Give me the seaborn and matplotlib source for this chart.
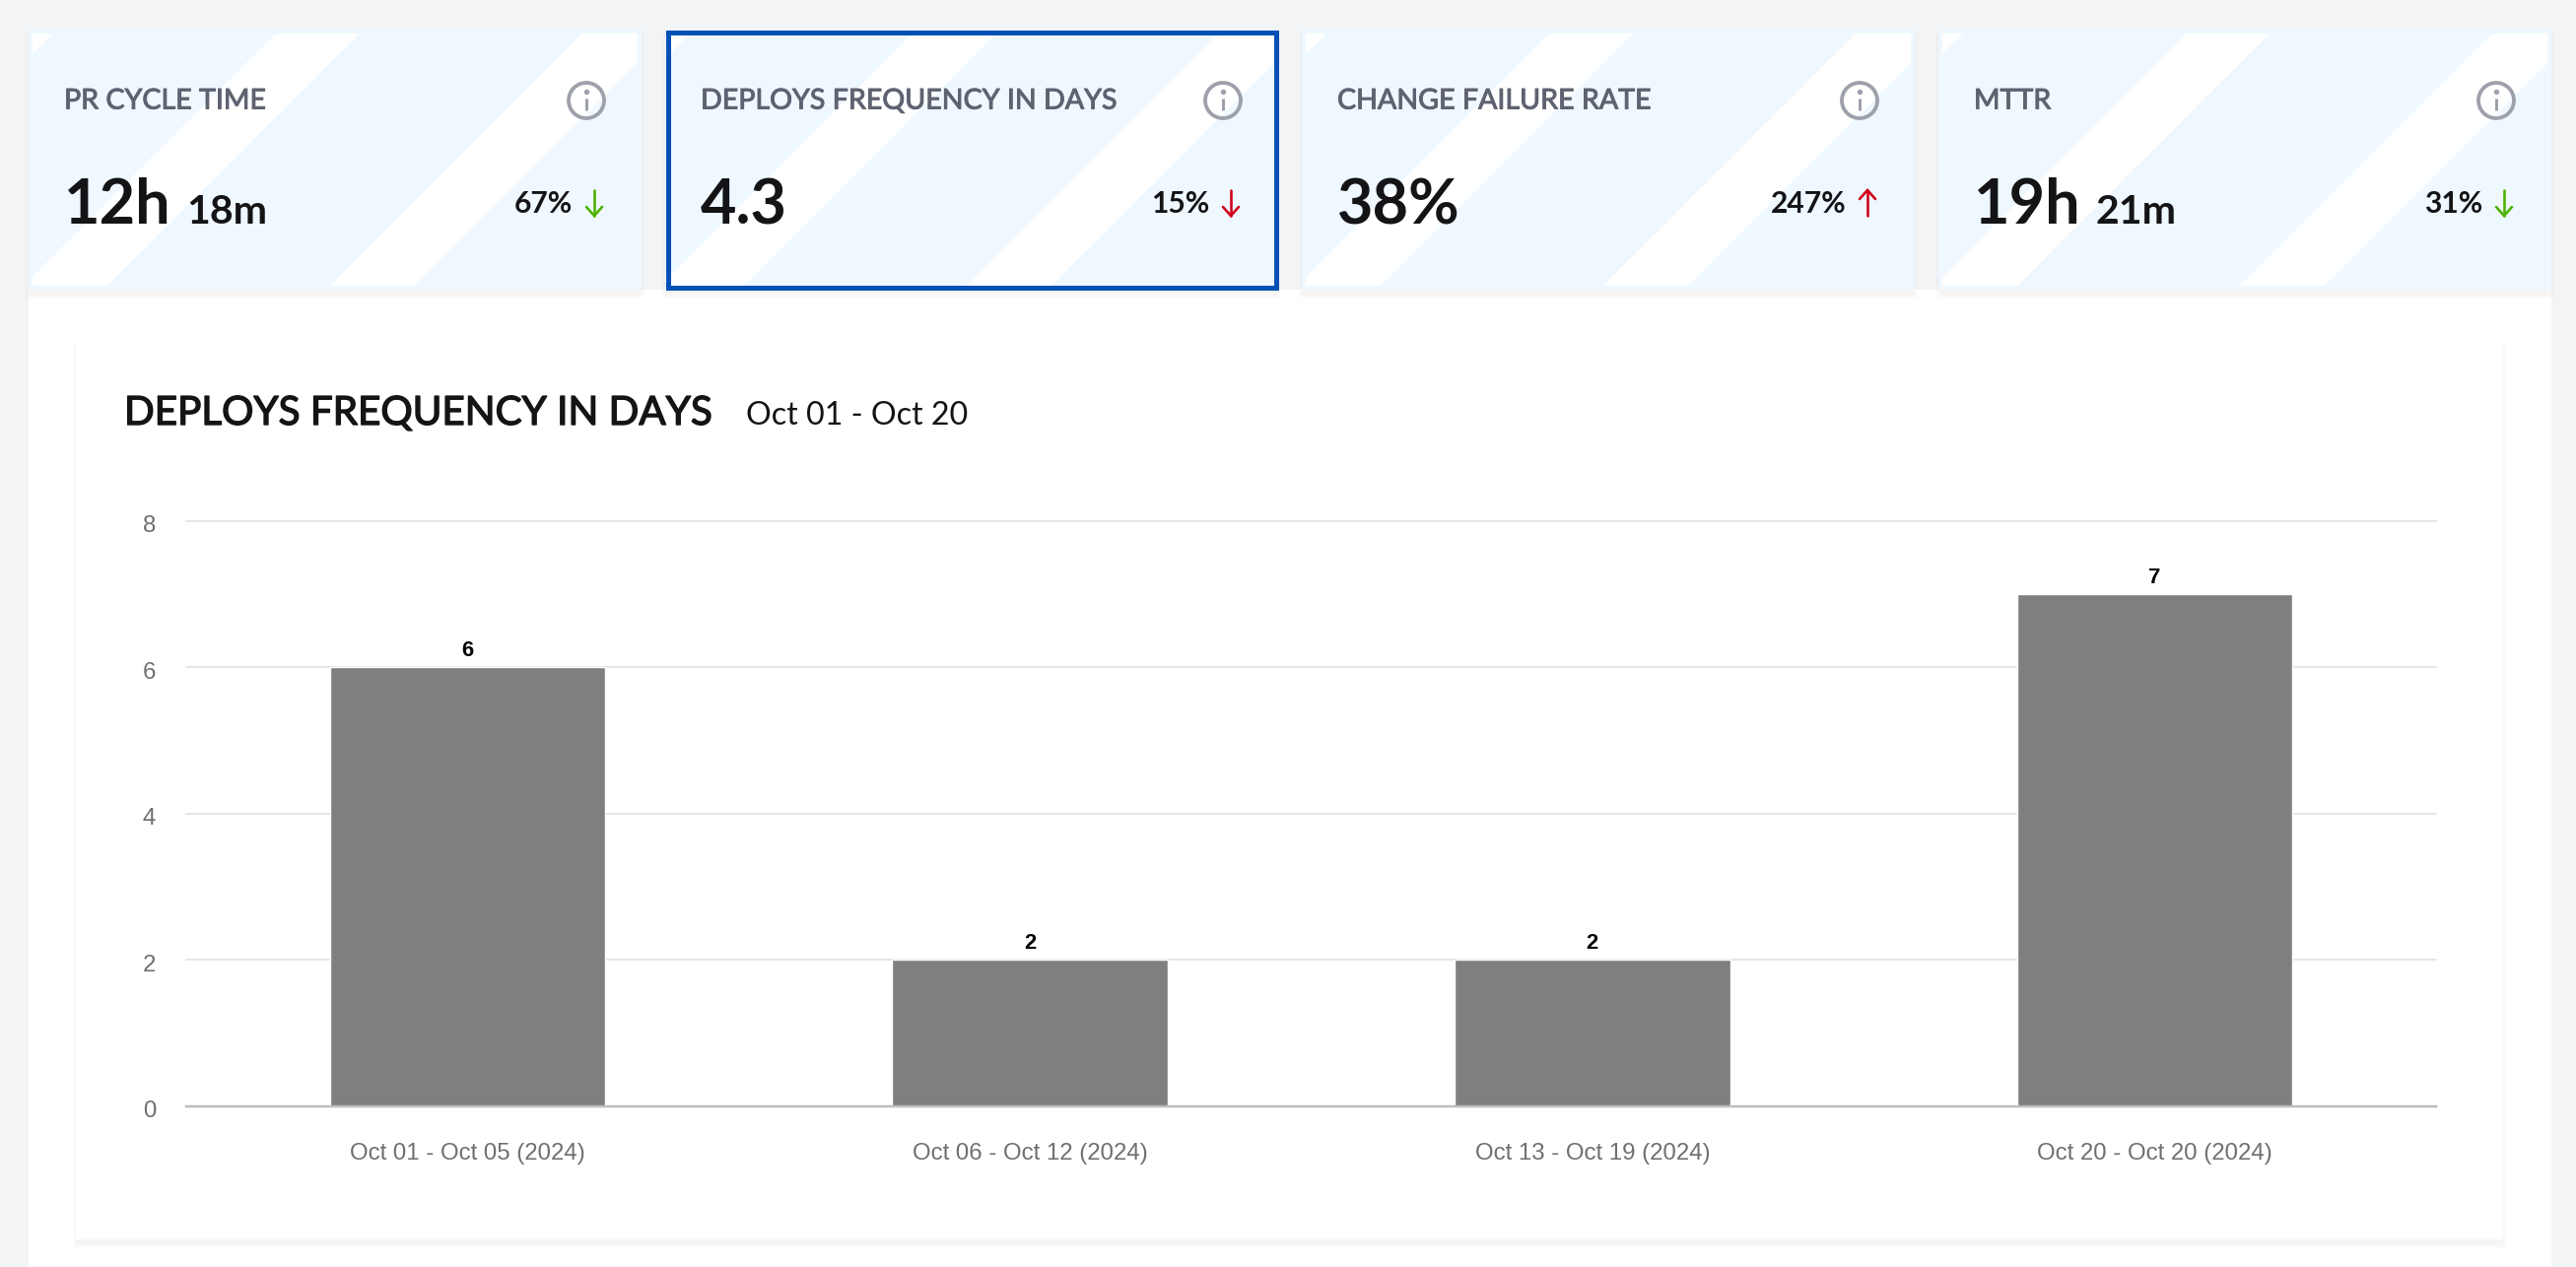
import matplotlib
matplotlib.use("Agg")
import matplotlib.pyplot as plt
import matplotlib.patheffects as pe
import seaborn as sns
from matplotlib.patches import Rectangle, Circle
from matplotlib.transforms import ScaledTranslation

# ---- data ----
periods = ["Oct 01 - Oct 05 (2024)", "Oct 06 - Oct 12 (2024)",
           "Oct 13 - Oct 19 (2024)", "Oct 20 - Oct 20 (2024)"]
deploys = [6, 2, 2, 7]
y_ticks = [0, 2, 4, 6, 8]
card_titles = ["PR CYCLE TIME", "DEPLOYS FREQUENCY IN DAYS", "CHANGE FAILURE RATE", "MTTR"]
card_main = ["12h", "4.3", "38%", "19h"]
card_sub = ["18m", "", "", "21m"]
card_change = ["67%", "15%", "247%", "31%"]
card_up = [False, False, True, False]
card_good = [True, False, False, True]
chart_title = "DEPLOYS FREQUENCY IN DAYS"
chart_range = "Oct 01 - Oct 20"

# ---- layout (pixels) ----
W, H = 2614, 1286
DPI = 100
card_left = [29, 675, 1321, 1967]
card_w, card_top, card_bot = 622, 30, 294
SANS = "Lato"
AX = "Liberation Sans"
C_BG, C_CARD, C_BLUE = "#F3F4F6", "#EFF8FF", "#0050B5"
C_GREEN, C_RED, C_INK, C_MUTED, C_ICON = "#4DB100", "#D0021B", "#141416", "#5F6270", "#9EA1AC"

sns.set_theme(style="white")
fig = plt.figure(figsize=(W / DPI, H / DPI), dpi=DPI, facecolor=C_BG)

bg = fig.add_axes([0, 0, 1, 1], zorder=0)
bg.set_xlim(0, W)
bg.set_ylim(H, 0)
bg.axis("off")


def px(p):
    return p * 0.72


def medium(color, w=0.7):
    return [pe.withStroke(linewidth=w, foreground=color)]


def shadow(x, y, w, h, spread=5, alpha=0.006):
    for i in range(spread, 0, -1):
        bg.add_patch(Rectangle((x - i + 2, y + 4), w + 2 * i - 4, h + i, fc="black", ec="none",
                               alpha=alpha, zorder=1))


# big white panel and inner chart card
bg.add_patch(Rectangle((29, 294), 2560, H - 294, fc="white", ec="none", zorder=1))
shadow(77, 342, 2463, 916)
bg.add_patch(Rectangle((77, 342), 2463, 916, fc="white", ec="none", zorder=2))

bands = [(-30, 55), (281, 366), (592, 678)]
for i, x0 in enumerate(card_left):
    shadow(x0, card_top, card_w, card_bot - card_top, alpha=0.008)
    bg.add_patch(Rectangle((x0, card_top), card_w, card_bot - card_top, fc=C_CARD, ec="none", zorder=3))
    clip = Rectangle((x0 + 4, card_top + 4), card_w - 8, card_bot - card_top - 8, transform=bg.transData)
    xi = x0 + 4
    yt, yb = card_top + 4, card_bot - 4
    for a, b in bands:
        poly = bg.fill([xi + a - yt, xi + b - yt, xi + b - yb, xi + a - yb],
                       [yt, yt, yb, yb], fc="white", ec="none", zorder=4)[0]
        poly.set_clip_path(clip)
    if i == 1:
        bg.add_patch(Rectangle((x0 + 2.5, card_top + 2.5), card_w - 5, card_bot - card_top - 5,
                               fc="none", ec=C_BLUE, lw=px(5), zorder=5))
    # title
    bg.text(x0 + 36, 102.5, card_titles[i], family=SANS, size=px(28.6), color=C_MUTED,
            va="center", ha="left", zorder=6, path_effects=medium(C_MUTED))
    # main value
    bg.text(x0 + 36, 227, card_main[i], family=SANS, size=px(63), color=C_INK, weight="bold",
            va="baseline", ha="left", zorder=6)
    if card_sub[i]:
        bg.text(x0 + 160, 227, card_sub[i], family=SANS, size=px(41), color=C_INK, weight="bold",
                va="baseline", ha="left", zorder=6)
    # change
    bg.text(x0 + 552, 216, card_change[i], family=SANS, size=px(30), color=C_INK, weight="bold",
            va="baseline", ha="right", zorder=6)
    col = C_GREEN if card_good[i] else C_RED
    ax0 = x0 + 574
    tip, tail = (193, 219) if card_up[i] else (219, 193)
    d = 9 if card_up[i] else -9
    bg.plot([ax0, ax0], [tail, tip], color=col, lw=px(2.6), zorder=6, solid_capstyle="round")
    bg.plot([ax0 - 8, ax0, ax0 + 8], [tip + d, tip, tip + d], color=col, lw=px(2.6), zorder=6,
            solid_capstyle="round", solid_joinstyle="miter")
    # info icon
    ic = x0 + 566
    bg.add_patch(Circle((ic, 102), 18, fc="none", ec=C_ICON, lw=px(3.8), zorder=6))
    bg.plot([ic, ic], [100, 112], color=C_ICON, lw=px(3), zorder=6, solid_capstyle="butt")
    bg.plot([ic], [93], marker="o", ms=px(4), color=C_ICON, zorder=6)

# chart header
bg.text(126, 431, chart_title, family=SANS, size=px(40.4), color=C_INK,
        va="baseline", ha="left", zorder=6, path_effects=medium(C_INK, 1.0))
bg.text(757, 431, chart_range, family=SANS, size=px(32.3), color=C_INK, va="baseline", ha="left", zorder=6)

# ---- bar chart ----
L, R, T, B = 189, 2472, 529, 1122.5
ax = fig.add_axes([L / W, 1 - B / H, (R - L) / W, (B - T) / H], zorder=3)
ax.patch.set_alpha(0)
sns.barplot(x=periods, y=deploys, color="#7F7F7F", saturation=1, width=0.49, ax=ax, zorder=3)
ax.set_xlim(-0.5, len(periods) - 0.5)
ax.set_ylim(0, 8)
ax.set_yticks(y_ticks)
ax.set_axisbelow(True)
ax.grid(axis="y", color="#E6E6E6", lw=px(2))
for gl in ax.get_ygridlines():
    gl.set_clip_on(False)
for s in ("top", "left", "right"):
    ax.spines[s].set_visible(False)
ax.spines["bottom"].set_color("#BDBDBD")
ax.spines["bottom"].set_linewidth(px(2.5))
ax.spines["bottom"].set_zorder(5)
ax.tick_params(axis="both", length=0)
ax.tick_params(axis="y", pad=px(31))
ax.tick_params(axis="x", pad=px(37))
for lab in ax.get_yticklabels():
    lab.set_family(AX)
    lab.set_fontsize(px(24))
    lab.set_color("#6F6F6F")
    lab.set_transform(lab.get_transform() + ScaledTranslation(0, -3 / DPI, fig.dpi_scale_trans))
for lab in ax.get_xticklabels():
    lab.set_family(AX)
    lab.set_fontsize(px(24))
    lab.set_color("#6F6F6F")
for c in ax.containers:
    ax.bar_label(c, labels=[str(v) for v in deploys], padding=px(6.5), family=AX, fontsize=px(22),
                 weight="bold", color="black")

fig.savefig("out.png", dpi=DPI, facecolor=C_BG)
